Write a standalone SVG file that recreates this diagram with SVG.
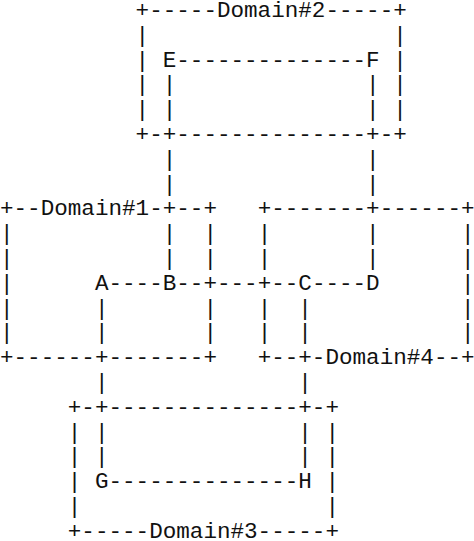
<svg xmlns="http://www.w3.org/2000/svg" width="474" height="541" viewBox="0 0 474 541">
<style>
text{font-family:"Liberation Mono","DejaVu Sans Mono",monospace;font-size:22.6px;fill:#111}
</style>
<rect x="0" y="0" width="474" height="541" fill="#fff"/>
<g id="domain2">
<text x="135.6" y="17">+-----Domain#2-----+</text>
<text x="135.6 135.6 135.6 135.6" y="41.8 66.6 91.4 116.2">||||</text>
<text x="393.24 393.24 393.24 393.24" y="41.8 66.6 91.4 116.2">||||</text>
<text x="135.6" y="141">+-+--------------+-+</text>
</g>
<g id="domain1">
<text x="0" y="215.4">+--Domain#1-+--+</text>
<text x="0 0 0 0 0" y="240.2 265 289.8 314.6 339.4">|||||</text>
<text x="203.4 203.4 203.4 203.4 203.4" y="240.2 265 289.8 314.6 339.4">||+||</text>
<text x="0" y="364.2">+------+-------+</text>
</g>
<g id="domain4">
<text x="257.64" y="215.4">+-------+------+</text>
<text x="257.64 257.64 257.64 257.64 257.64" y="240.2 265 289.8 314.6 339.4">||+||</text>
<text x="461.04 461.04 461.04 461.04 461.04" y="240.2 265 289.8 314.6 339.4">|||||</text>
<text x="257.64" y="364.2">+--+-Domain#4--+</text>
</g>
<g id="domain3">
<text x="67.8" y="413.8">+-+--------------+-+</text>
<text x="67.8 67.8 67.8 67.8" y="438.6 463.4 488.2 513">||||</text>
<text x="325.44 325.44 325.44 325.44" y="438.6 463.4 488.2 513">||||</text>
<text x="67.8" y="537.8">+-----Domain#3-----+</text>
</g>
<g id="node-E"><text x="162.72" y="66.6">E</text></g>
<g id="node-F"><text x="366.12" y="66.6">F</text></g>
<g id="node-A"><text x="94.92" y="289.8">A</text></g>
<g id="node-B"><text x="162.72" y="289.8">B</text></g>
<g id="node-C"><text x="298.32" y="289.8">C</text></g>
<g id="node-D"><text x="366.12" y="289.8">D</text></g>
<g id="node-G"><text x="94.92" y="488.2">G</text></g>
<g id="node-H"><text x="298.32" y="488.2">H</text></g>
<g id="connectors">
<text x="176.28" y="66.6">--------------</text>
<text x="162.72 162.72 162.72 162.72 162.72 162.72" y="91.4 116.2 165.8 190.6 240.2 265">||||||</text>
<text x="366.12 366.12 366.12 366.12 366.12 366.12" y="91.4 116.2 165.8 190.6 240.2 265">||||||</text>
<text x="108.48" y="289.8">----</text>
<text x="176.28" y="289.8">--</text>
<text x="216.96" y="289.8">---</text>
<text x="271.2" y="289.8">--</text>
<text x="311.88" y="289.8">----</text>
<text x="94.92 94.92 94.92 94.92 94.92" y="314.6 339.4 389 438.6 463.4">|||||</text>
<text x="298.32 298.32 298.32 298.32 298.32" y="314.6 339.4 389 438.6 463.4">|||||</text>
<text x="108.48" y="488.2">--------------</text>
</g>
</svg>
